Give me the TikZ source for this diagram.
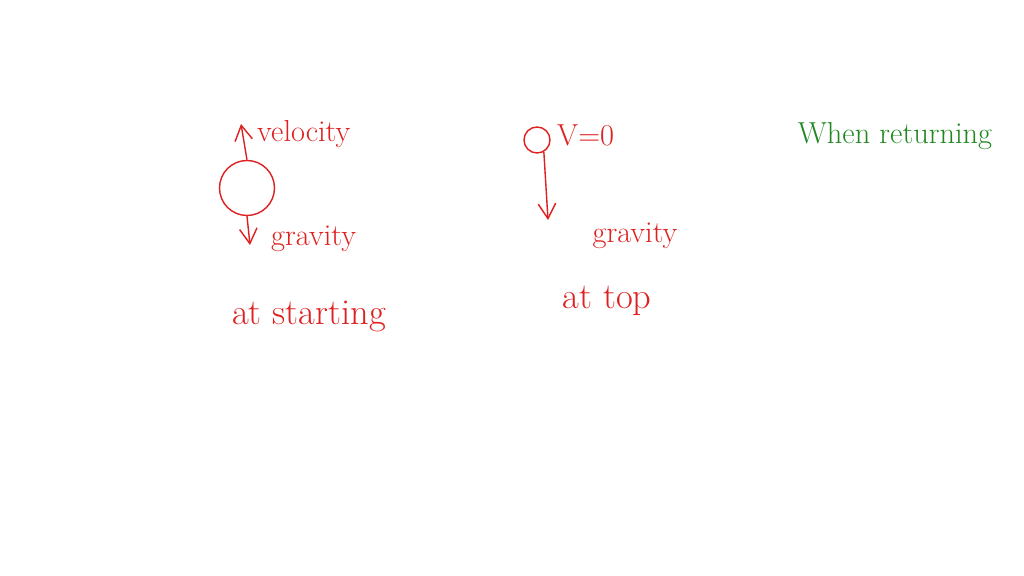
\documentclass[tikz,border=0pt]{standalone}
\usepackage{tikz}
\usetikzlibrary{positioning,arrows.meta}
\definecolor{inkred}{RGB}{222,32,32}
\definecolor{inkgreen}{RGB}{34,134,34}

\begin{document}
\begin{tikzpicture}[
    ball/.style={draw=inkred, thick, circle, inner sep=0pt},
    word/.style={text=inkred, font=\LARGE},
    vec/.style={inkred, thick, -{Straight Barb[length=3mm,width=3.5mm]}}]
    \useasboundingbox (0,0) rectangle (20.48,11.52);

    % at starting
    \begin{scope}
        \node[ball, minimum size=1.1cm] (ballA) at (4.94,7.76) {};
        \coordinate (upA) at (4.82,9.04);
        \coordinate (downA) at (5.0,6.62);
        \draw[vec] (ballA.north) -- (upA);
        \draw[vec] (ballA.south) -- (downA);
        \node[word, anchor=west] (velA) at (5.02,8.84) {velocity};
        \node[word, anchor=west] (gravA) at (5.3,6.74) {gravity};
        \node[word, font=\huge] (startA) at (6.18,5.2) {at starting};
    \end{scope}

    % at top
    \begin{scope}
        \node[ball, minimum size=0.52cm] (ballB) at (10.74,8.72) {};
        \coordinate (downB) at (10.96,7.12);
        \draw[vec] (ballB.-60) -- (downB);
        \node[word, anchor=west] (velB) at (11.02,8.82) {V=0};
        \node[word] (gravB) at (12.7,6.8) {gravity};
        \node[word, font=\huge] (topB) at (12.14,5.5) {at top};
    \end{scope}

    % when returning
    \node[text=inkgreen, font=\LARGE] (retC) at (17.9,8.8) {When returning};
\end{tikzpicture}
\end{document}
